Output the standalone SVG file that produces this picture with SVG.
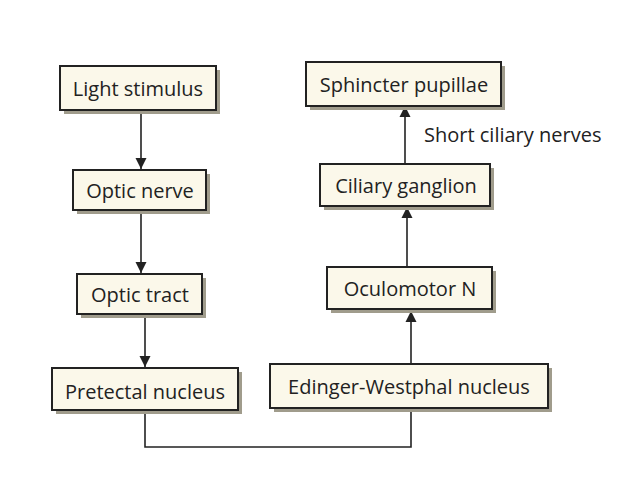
<svg xmlns="http://www.w3.org/2000/svg" width="638" height="478" viewBox="0 0 638 478">
<defs>
<style>
.b{fill:#fbf8ea;stroke:#222;stroke-width:2}
.s{fill:#a09c8c}
text{font-family:"Open Sans","Liberation Sans",sans-serif;font-size:20px;fill:#222;text-anchor:middle;dominant-baseline:central}
.c{stroke:#222;stroke-width:1.6;fill:none}
</style>
<marker id="a" viewBox="0 0 10 10" refX="10" refY="5" markerWidth="7" markerHeight="7" orient="auto"><path d="M0,0L10,5L0,10z" fill="#222"/></marker>
</defs>
<rect width="638" height="478" fill="#fff"/>
<g id="connectors">
<line class="c" x1="141" y1="110" x2="141" y2="169" marker-end="url(#a)"/>
<line class="c" x1="141" y1="212" x2="141" y2="273" marker-end="url(#a)"/>
<line class="c" x1="145" y1="316" x2="145" y2="367" marker-end="url(#a)"/>
<line class="c" x1="411" y1="364" x2="411" y2="311" marker-end="url(#a)"/>
<line class="c" x1="407" y1="266" x2="407" y2="207" marker-end="url(#a)"/>
<line class="c" x1="405" y1="164" x2="405" y2="106" marker-end="url(#a)"/>
<polyline class="c" points="145,410 145,447 411,447 411,408"/>
<text x="424" y="134" style="text-anchor:start">Short ciliary nerves</text>
</g>
<g id="n1"><rect class="s" x="64" y="70" width="156" height="44"/><rect class="b" x="60" y="66" width="156" height="44"/><text x="138" y="88">Light stimulus</text></g>
<g id="n2"><rect class="s" x="77" y="174" width="133" height="40"/><rect class="b" x="73" y="170" width="133" height="40"/><text x="140" y="190">Optic nerve</text></g>
<g id="n3"><rect class="s" x="81" y="278" width="125" height="40"/><rect class="b" x="77" y="274" width="125" height="40"/><text x="140" y="294">Optic tract</text></g>
<g id="n4"><rect class="s" x="56" y="372" width="186" height="42"/><rect class="b" x="52" y="368" width="186" height="42"/><text x="145" y="391">Pretectal nucleus</text></g>
<g id="n5"><rect class="s" x="274" y="368" width="278" height="44"/><rect class="b" x="270" y="364" width="278" height="44"/><text x="409" y="386">Edinger-Westphal nucleus</text></g>
<g id="n6"><rect class="s" x="331" y="271" width="165" height="42"/><rect class="b" x="327" y="267" width="165" height="42"/><text x="410" y="288">Oculomotor N</text></g>
<g id="n7"><rect class="s" x="324" y="168" width="170" height="42"/><rect class="b" x="320" y="164" width="170" height="42"/><text x="406" y="185">Ciliary ganglion</text></g>
<g id="n8"><rect class="s" x="310" y="66" width="195" height="44"/><rect class="b" x="306" y="62" width="195" height="44"/><text x="404" y="84">Sphincter pupillae</text></g>
</svg>
